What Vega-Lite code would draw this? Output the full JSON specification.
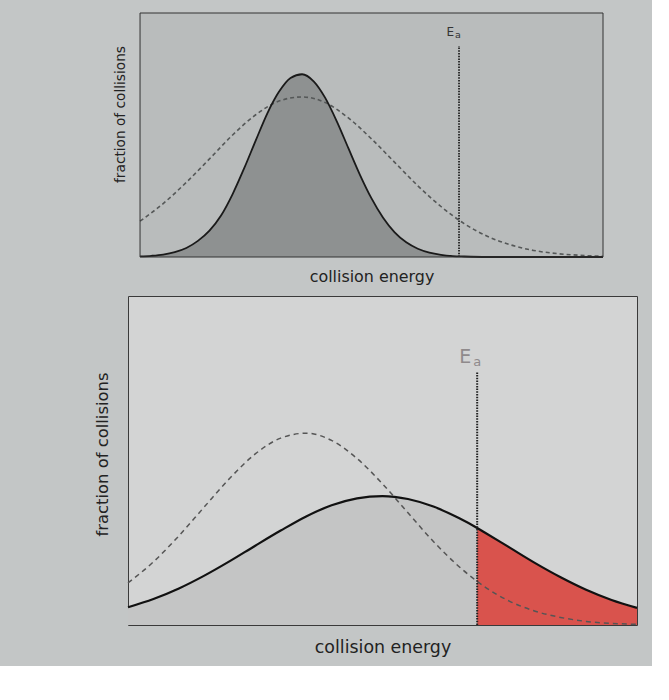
{
  "$schema": "https://vega.github.io/schema/vega-lite/v6.json",
  "background": "#c3c6c6",
  "padding": {"left": 91, "top": 12, "right": 10, "bottom": 10},
  "autosize": {"type": "pad"},
  "config": {
    "font": "DejaVu Sans",
    "axis": {"domain": false, "labels": false, "grid": false, "titleColor": "#222222", "titleFontWeight": "normal"}
  },
  "datasets": {
    "top": [
      {"part": "frame", "x": 0, "x2": 100, "y": 0, "y2": 100},
      {"part": "solid", "x": 0, "y": 0.24},
      {"part": "solid", "x": 2.5, "y": 0.5},
      {"part": "solid", "x": 5, "y": 1.0},
      {"part": "solid", "x": 7.5, "y": 2.0},
      {"part": "solid", "x": 10, "y": 3.7},
      {"part": "solid", "x": 12.5, "y": 6.6},
      {"part": "solid", "x": 15, "y": 10.8},
      {"part": "solid", "x": 17.5, "y": 17.0},
      {"part": "solid", "x": 20, "y": 25.8},
      {"part": "solid", "x": 22.5, "y": 36.4},
      {"part": "solid", "x": 25, "y": 47.8},
      {"part": "solid", "x": 27.5, "y": 58.9},
      {"part": "solid", "x": 30, "y": 67.7},
      {"part": "solid", "x": 32.5, "y": 73.4},
      {"part": "solid", "x": 35, "y": 74.9},
      {"part": "solid", "x": 37.5, "y": 72.0},
      {"part": "solid", "x": 40, "y": 65.2},
      {"part": "solid", "x": 42.5, "y": 55.6},
      {"part": "solid", "x": 45, "y": 44.6},
      {"part": "solid", "x": 47.5, "y": 33.7},
      {"part": "solid", "x": 50, "y": 24.0},
      {"part": "solid", "x": 52.5, "y": 16.1},
      {"part": "solid", "x": 55, "y": 10.1},
      {"part": "solid", "x": 57.5, "y": 6.0},
      {"part": "solid", "x": 60, "y": 3.4},
      {"part": "solid", "x": 62.5, "y": 1.8},
      {"part": "solid", "x": 65, "y": 0.9},
      {"part": "solid", "x": 67.5, "y": 0.4},
      {"part": "solid", "x": 70, "y": 0.2},
      {"part": "solid", "x": 75, "y": 0},
      {"part": "solid", "x": 100, "y": 0},
      {"part": "dashed", "x": 0, "y": 14.7},
      {"part": "dashed", "x": 5, "y": 21.9},
      {"part": "dashed", "x": 10, "y": 30.6},
      {"part": "dashed", "x": 15, "y": 40.2},
      {"part": "dashed", "x": 20, "y": 50.0},
      {"part": "dashed", "x": 25, "y": 58.3},
      {"part": "dashed", "x": 30, "y": 63.9},
      {"part": "dashed", "x": 35, "y": 65.6},
      {"part": "dashed", "x": 40, "y": 63.3},
      {"part": "dashed", "x": 45, "y": 57.0},
      {"part": "dashed", "x": 50, "y": 48.4},
      {"part": "dashed", "x": 55, "y": 38.8},
      {"part": "dashed", "x": 60, "y": 29.2},
      {"part": "dashed", "x": 65, "y": 20.7},
      {"part": "dashed", "x": 70, "y": 13.7},
      {"part": "dashed", "x": 75, "y": 8.5},
      {"part": "dashed", "x": 80, "y": 5.0},
      {"part": "dashed", "x": 85, "y": 2.7},
      {"part": "dashed", "x": 90, "y": 1.4},
      {"part": "dashed", "x": 95, "y": 0.7},
      {"part": "dashed", "x": 100, "y": 0.3},
      {"part": "ea", "x": 68.9, "y": 0, "y2": 86.5},
      {"part": "label", "x": 68.9, "y": 90.6}
    ],
    "bottom": [
      {"part": "solid", "x": 0, "y": 5.4},
      {"part": "solid", "x": 5, "y": 7.9},
      {"part": "solid", "x": 10, "y": 11.1},
      {"part": "solid", "x": 15, "y": 15.0},
      {"part": "solid", "x": 20, "y": 19.4},
      {"part": "solid", "x": 25, "y": 24.1},
      {"part": "solid", "x": 30, "y": 28.7},
      {"part": "solid", "x": 35, "y": 33.0},
      {"part": "solid", "x": 40, "y": 36.4},
      {"part": "solid", "x": 45, "y": 38.5},
      {"part": "solid", "x": 50, "y": 39.2},
      {"part": "solid", "x": 55, "y": 38.3},
      {"part": "solid", "x": 60, "y": 36.0},
      {"part": "solid", "x": 65, "y": 32.5},
      {"part": "solid", "x": 68.6, "y": 29.5},
      {"part": "solid", "x": 70, "y": 28.2},
      {"part": "solid", "x": 75, "y": 23.5},
      {"part": "solid", "x": 80, "y": 18.8},
      {"part": "solid", "x": 85, "y": 14.5},
      {"part": "solid", "x": 90, "y": 10.7},
      {"part": "solid", "x": 95, "y": 7.6},
      {"part": "solid", "x": 100, "y": 5.2},
      {"part": "dashed", "x": 0, "y": 12.8},
      {"part": "dashed", "x": 5, "y": 19.2},
      {"part": "dashed", "x": 10, "y": 27.1},
      {"part": "dashed", "x": 15, "y": 35.9},
      {"part": "dashed", "x": 20, "y": 44.6},
      {"part": "dashed", "x": 25, "y": 52.0},
      {"part": "dashed", "x": 30, "y": 56.8},
      {"part": "dashed", "x": 35, "y": 58.3},
      {"part": "dashed", "x": 40, "y": 56.1},
      {"part": "dashed", "x": 45, "y": 50.6},
      {"part": "dashed", "x": 50, "y": 42.9},
      {"part": "dashed", "x": 55, "y": 34.1},
      {"part": "dashed", "x": 60, "y": 25.4},
      {"part": "dashed", "x": 65, "y": 17.8},
      {"part": "dashed", "x": 70, "y": 11.7},
      {"part": "dashed", "x": 75, "y": 7.2},
      {"part": "dashed", "x": 80, "y": 4.2},
      {"part": "dashed", "x": 85, "y": 2.3},
      {"part": "dashed", "x": 90, "y": 1.1},
      {"part": "dashed", "x": 95, "y": 0.5},
      {"part": "dashed", "x": 100, "y": 0.2},
      {"part": "ea", "x": 68.6, "y": 0, "y2": 77},
      {"part": "label", "x": 68.6, "y": 79.6}
    ]
  },
  "vconcat": [
    {
      "width": 475,
      "height": 244,
      "view": {"stroke": null, "fill": null},
      "data": {"name": "top"},
      "encoding": {
        "x": {"field": "x", "type": "quantitative", "scale": {"domain": [-2.6, 100], "nice": false, "zero": false},
              "axis": {"title": "collision energy", "ticks": false, "titlePadding": 11, "titleFontSize": 15.9, "titleX": 243.5}},
        "y": {"field": "y", "type": "quantitative", "scale": {"domain": [0, 100], "nice": false},
              "axis": {"title": "fraction of collisions", "ticks": false,
                       "titleX": -8, "titleY": 101, "titleAngle": -90, "titleAlign": "center", "titleBaseline": "middle", "titleFontSize": 13.7}}
      },
      "layer": [
        {"transform": [{"filter": "datum.part === 'frame'"}],
         "mark": {"type": "rect", "fill": "#b9bcbc"},
         "encoding": {"x2": {"field": "x2"}, "y2": {"field": "y2"}}},
        {"transform": [{"filter": "datum.part === 'solid'"}],
         "mark": {"type": "area", "interpolate": "monotone", "color": "#8e9191"}},
        {"transform": [{"filter": "datum.part === 'dashed'"}],
         "mark": {"type": "line", "interpolate": "monotone", "color": "#555858", "strokeWidth": 1.6, "strokeDash": [4, 3]}},
        {"transform": [{"filter": "datum.part === 'solid'"}],
         "mark": {"type": "line", "interpolate": "monotone", "color": "#1a1a1a", "strokeWidth": 1.8}},
        {"transform": [{"filter": "datum.part === 'ea'"}],
         "mark": {"type": "rule", "color": "#222222", "strokeWidth": 1.8, "strokeDash": [1.5, 1.2]},
         "encoding": {"y2": {"field": "y2"}}},
        {"transform": [{"filter": "datum.part === 'label'"}],
         "mark": {"type": "text", "text": "E", "align": "right", "baseline": "alphabetic", "dx": -5, "fontSize": 12, "color": "#333333"}},
        {"transform": [{"filter": "datum.part === 'label'"}],
         "mark": {"type": "text", "text": "a", "align": "left", "baseline": "alphabetic", "dx": -4, "dy": 2, "fontSize": 9.5, "color": "#333333"}},
        {"transform": [{"filter": "datum.part === 'frame'"}],
         "mark": {"type": "rect", "filled": false, "stroke": "#333333", "strokeWidth": 1},
         "encoding": {"x2": {"field": "x2"}, "y2": {"field": "y2"}}}
      ]
    },
    {
      "width": 509,
      "height": 329,
      "view": {"stroke": "#3a3a3a", "strokeWidth": 1, "fill": "#d3d4d4"},
      "data": {"name": "bottom"},
      "encoding": {
        "x": {"field": "x", "type": "quantitative", "scale": {"domain": [0, 100], "nice": false, "zero": false},
              "axis": {"title": "collision energy", "ticks": false, "titlePadding": 13, "titleFontSize": 17.4}},
        "y": {"field": "y", "type": "quantitative", "scale": {"domain": [0, 100], "nice": false},
              "axis": {"title": "fraction of collisions", "values": [0], "ticks": true, "tickSize": 36, "tickOpacity": 0,
                       "titleX": -26, "titleY": 158, "titleAngle": -90, "titleAlign": "center", "titleBaseline": "middle", "titleFontSize": 16.4}}
      },
      "layer": [
        {"transform": [{"filter": "datum.part === 'solid'"}],
         "mark": {"type": "area", "interpolate": "monotone", "color": "#c4c5c5"}},
        {"transform": [{"filter": "datum.part === 'solid' && datum.x >= 68.6"}],
         "mark": {"type": "area", "interpolate": "monotone", "color": "#d9534d"}},
        {"transform": [{"filter": "datum.part === 'dashed'"}],
         "mark": {"type": "line", "interpolate": "monotone", "color": "#555555", "strokeWidth": 1.5, "strokeDash": [5, 4]}},
        {"transform": [{"filter": "datum.part === 'solid'"}],
         "mark": {"type": "line", "interpolate": "monotone", "color": "#111111", "strokeWidth": 2.2}},
        {"transform": [{"filter": "datum.part === 'ea'"}],
         "mark": {"type": "rule", "color": "#222222", "strokeWidth": 2, "strokeDash": [1.5, 1.2]},
         "encoding": {"y2": {"field": "y2"}}},
        {"transform": [{"filter": "datum.part === 'label'"}],
         "mark": {"type": "text", "text": "E", "align": "right", "baseline": "alphabetic", "dx": -6, "fontSize": 19, "color": "#8f8a8c"}},
        {"transform": [{"filter": "datum.part === 'label'"}],
         "mark": {"type": "text", "text": "a", "align": "left", "baseline": "alphabetic", "dx": -4, "dy": 3, "fontSize": 13, "color": "#8f8a8c"}}
      ]
    }
  ],
  "spacing": 11
}
